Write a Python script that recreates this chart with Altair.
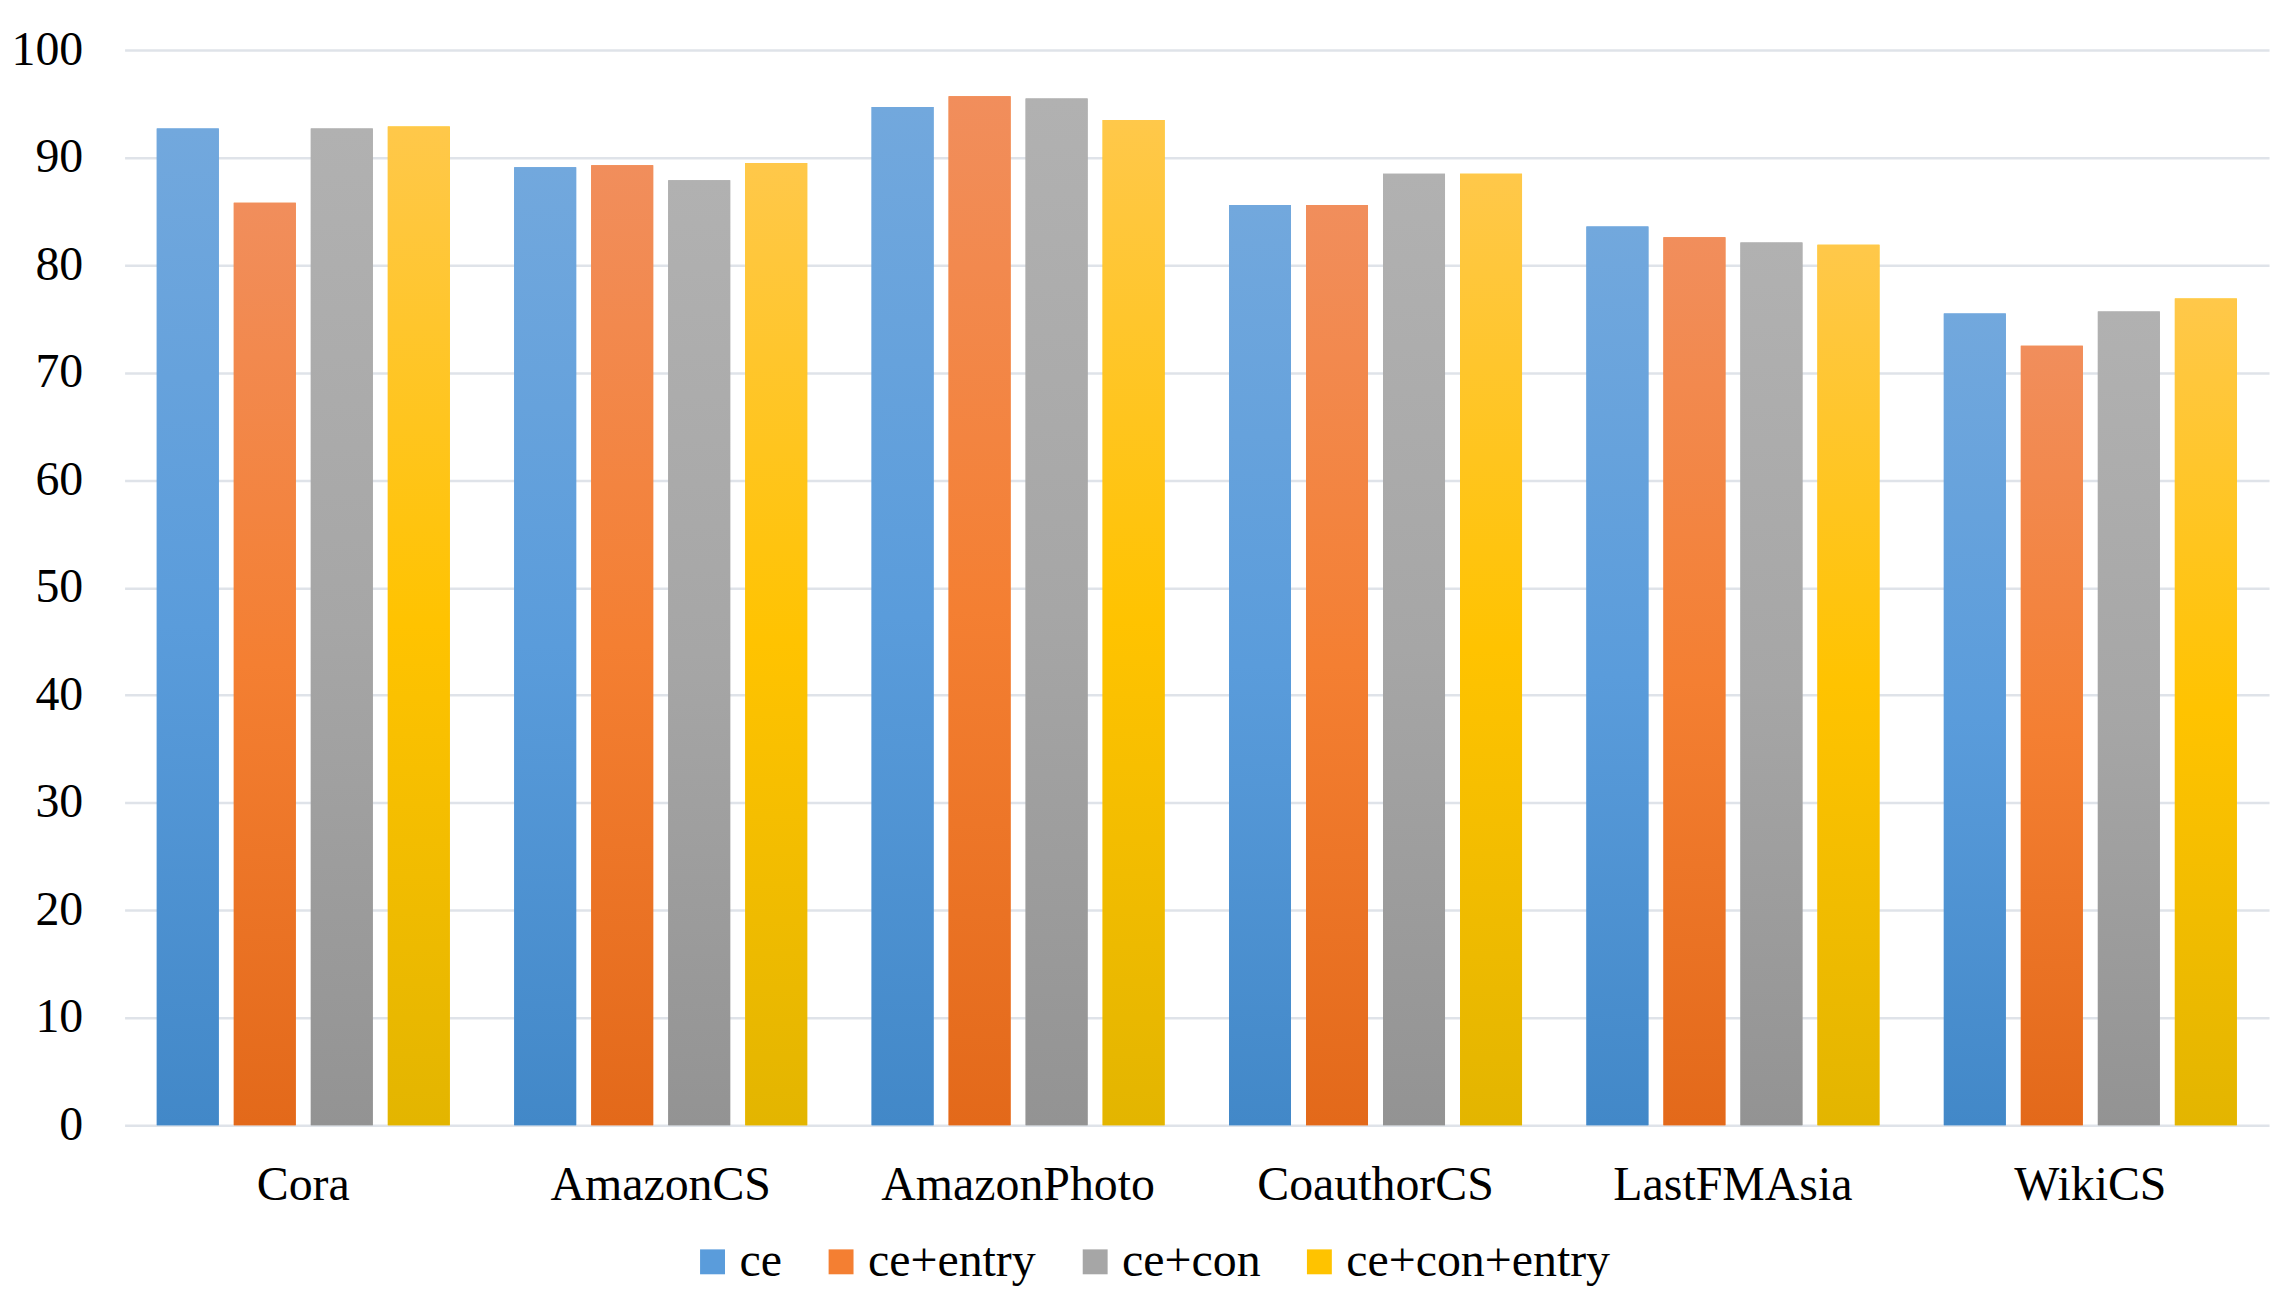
import altair as alt
import pandas as pd

categories = ["Cora", "AmazonCS", "AmazonPhoto", "CoauthorCS", "LastFMAsia", "WikiCS"]
series = ["ce", "ce+entry", "ce+con", "ce+con+entry"]
ce = [92.7, 89.1, 94.7, 85.6, 83.6, 75.5]
ce_entry = [85.8, 89.3, 95.7, 85.6, 82.6, 72.5]
ce_con = [92.7, 87.9, 95.5, 88.5, 82.1, 75.7]
ce_con_entry = [92.9, 89.5, 93.5, 88.5, 81.9, 76.9]
y_ticks = [0, 10, 20, 30, 40, 50, 60, 70, 80, 90, 100]

mid_colors = ["#5A9CDB", "#F47F32", "#A6A6A6", "#FFC300"]
top_colors = ["#72A8DD", "#F18E5C", "#B1B1B1", "#FFC84A"]
bot_colors = ["#4288C8", "#E3691A", "#939393", "#E3B500"]

values_by_series = [ce, ce_entry, ce_con, ce_con_entry]
rows = []
for s, vals in zip(series, values_by_series):
    for c, v in zip(categories, vals):
        rows.append({"dataset": c, "series": s, "value": v})
df = pd.DataFrame(rows)

FONT = "Liberation Serif"
GRID = "#DFE3E9"

base = alt.Chart(df).encode(
    x=alt.X(
        "dataset:N",
        sort=categories,
        title=None,
        scale=alt.Scale(domain=categories, paddingInner=0, paddingOuter=0),
        axis=alt.Axis(
            labelAngle=0,
            labelFont=FONT,
            labelFontSize=48,
            labelColor="#000000",
            labelPadding=36,
            labelLimit=1000,
            ticks=False,
            domain=False,
            grid=False,
        ),
    ),
    xOffset=alt.XOffset(
        "series:N",
        sort=series,
        scale=alt.Scale(domain=series, paddingInner=0.195, paddingOuter=0.418),
    ),
    y=alt.Y(
        "value:Q",
        title=None,
        scale=alt.Scale(domain=[0, 100], nice=False, zero=True),
        axis=alt.Axis(
            values=y_ticks,
            labelFont=FONT,
            labelFontSize=48,
            labelColor="#000000",
            labelPadding=42,
            ticks=False,
            tickSize=0,
            domain=False,
            grid=True,
            gridColor=GRID,
            gridWidth=2.5,
        ),
    ),
)

legend_layer = base.mark_bar().encode(
    color=alt.Color(
        "series:N",
        sort=series,
        scale=alt.Scale(domain=series, range=mid_colors),
        legend=alt.Legend(
            title=None,
            orient="none",
            direction="horizontal",
            legendX=566,
            legendY=1192,
            symbolType="square",
            symbolSize=625,
            symbolStrokeWidth=0,
            labelFont=FONT,
            labelFontSize=48,
            labelColor="#000000",
            labelOffset=3,
            columnPadding=35,
            labelLimit=600,
        ),
    )
)

grad_layers = []
for s, t, m, b in zip(series, top_colors, mid_colors, bot_colors):
    grad = {
        "gradient": "linear",
        "x1": 0, "x2": 0, "y1": 0, "y2": 1,
        "stops": [
            {"offset": 0, "color": t},
            {"offset": 0.5, "color": m},
            {"offset": 1, "color": b},
        ],
    }
    grad_layers.append(
        base.transform_filter(alt.datum.series == s).mark_bar(color=grad)
    )

chart = (
    alt.layer(legend_layer, *grad_layers)
    .properties(
        width=2152,
        height=1079,
        autosize=alt.AutoSizeParams(type="none"),
        padding={"left": 117, "top": 40, "right": 10, "bottom": 160},
        background="#FFFFFF",
    )
    .configure_view(stroke=None)
    .configure_axis(labelFont=FONT, labelFontSize=48, labelColor="#000000")
    .configure_legend(labelFont=FONT, labelFontSize=48, labelColor="#000000")
)

chart.save("out.html", embed_options={"renderer": "svg", "actions": False})
